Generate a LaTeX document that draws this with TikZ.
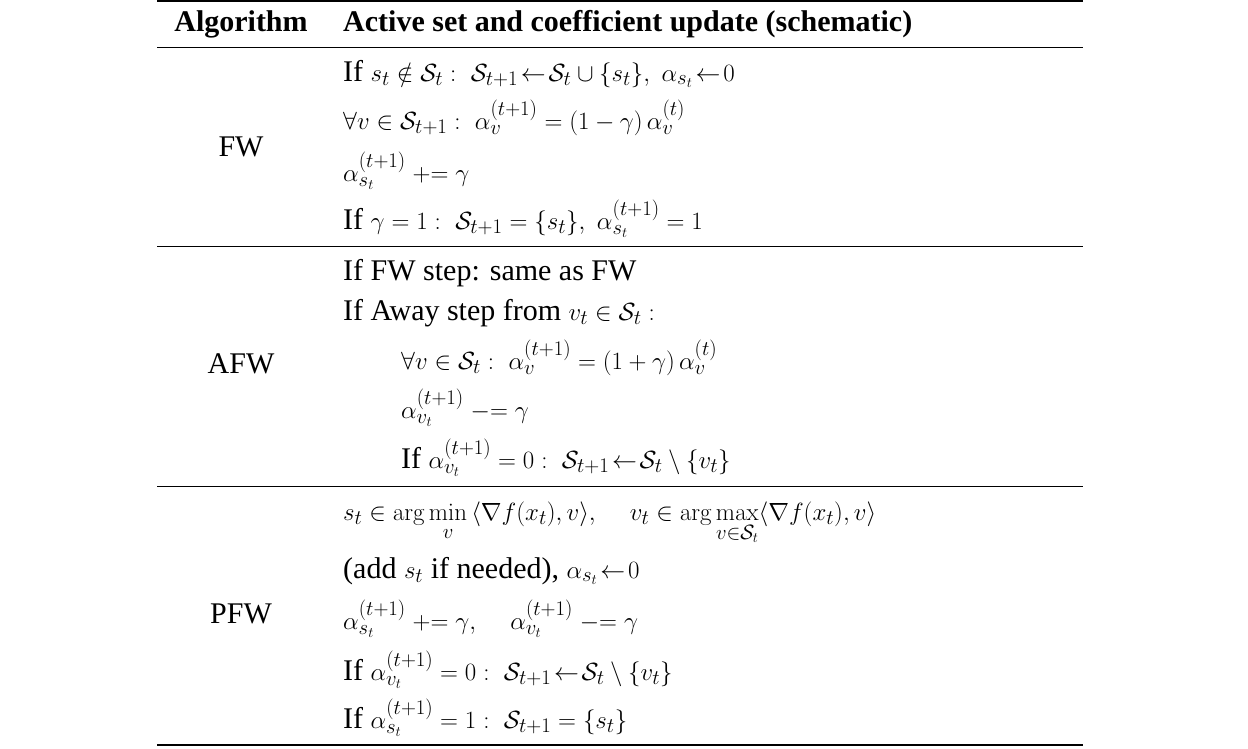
\documentclass[tikz,border=0pt]{standalone}
\usepackage{amsmath,amssymb}
\usepackage[no-math]{fontspec}
\setmainfont{Liberation Serif}
\begin{document}
\begin{tikzpicture}[x=1pt,y=-1pt,
  txt/.style={anchor=base west,inner sep=0pt,font=\fontsize{30}{34}\selectfont},
  lab/.style={anchor=base,inner sep=0pt,font=\fontsize{30}{34}\selectfont}]
\useasboundingbox (0,0) rectangle (1248,748);
\draw[line width=1.6pt] (157,1) -- (1083,1);
\draw[line width=1pt] (157,47) -- (1083,47);
\draw[line width=1pt] (157,246) -- (1083,246);
\draw[line width=1pt] (157,486) -- (1083,486);
\draw[line width=1.6pt] (157,745) -- (1083,745);
\node[lab] (h1) at (241,31) {\textbf{Algorithm}};
\node[txt] (h2) at (343,31) {\textbf{Active set and coefficient update (schematic)}};
\node[lab] (fw) at (241,156) {FW};
\node[txt] (f1) at (343,81) {If $s_t\notin\mathcal S_t:\ \mathcal S_{t+1}\!\leftarrow\!\mathcal S_t\cup\{s_t\},\ \alpha_{s_t}\!\leftarrow\!0$};
\node[txt] (f2) at (343,129) {$\forall v\in\mathcal S_{t+1}:\ \alpha_v^{(t+1)}=(1-\gamma)\,\alpha_v^{(t)}$};
\node[txt] (f3) at (343,181) {$\alpha_{s_t}^{(t+1)}\mathrel{+}=\gamma$};
\node[txt] (f4) at (343,229) {If $\gamma=1:\ \mathcal S_{t+1}=\{s_t\},\ \alpha_{s_t}^{(t+1)}=1$};
\node[lab] (afw) at (241,373) {AFW};
\node[txt] (a1) at (343,280) {If FW step: same as FW};
\node[txt] (a2) at (343,320) {If Away step from $v_t\in\mathcal S_t:$};
\node[txt] (a3) at (401,369) {$\forall v\in\mathcal S_t:\ \alpha_v^{(t+1)}=(1+\gamma)\,\alpha_v^{(t)}$};
\node[txt] (a4) at (401,418) {$\alpha_{v_t}^{(t+1)}\mathrel{-}=\gamma$};
\node[txt] (a5) at (401,468) {If $\alpha_{v_t}^{(t+1)}=0:\ \mathcal S_{t+1}\!\leftarrow\!\mathcal S_t\setminus\{v_t\}$};
\node[lab] (pfw) at (241,623) {PFW};
\node[txt] (p1) at (343,520) {$s_t\in\arg\min\limits_v\,\langle\nabla f(x_t),v\rangle,\quad v_t\in\arg\max\limits_{v\in\mathcal S_t}\langle\nabla f(x_t),v\rangle$};
\node[txt] (p2) at (343,578) {(add $s_t$ if needed), $\alpha_{s_t}\!\leftarrow\!0$};
\node[txt] (p3) at (343,629) {$\alpha_{s_t}^{(t+1)}\mathrel{+}=\gamma,\quad \alpha_{v_t}^{(t+1)}\mathrel{-}=\gamma$};
\node[txt] (p4) at (343,680) {If $\alpha_{v_t}^{(t+1)}=0:\ \mathcal S_{t+1}\!\leftarrow\!\mathcal S_t\setminus\{v_t\}$};
\node[txt] (p5) at (343,728) {If $\alpha_{s_t}^{(t+1)}=1:\ \mathcal S_{t+1}=\{s_t\}$};
\end{tikzpicture}
\end{document}
